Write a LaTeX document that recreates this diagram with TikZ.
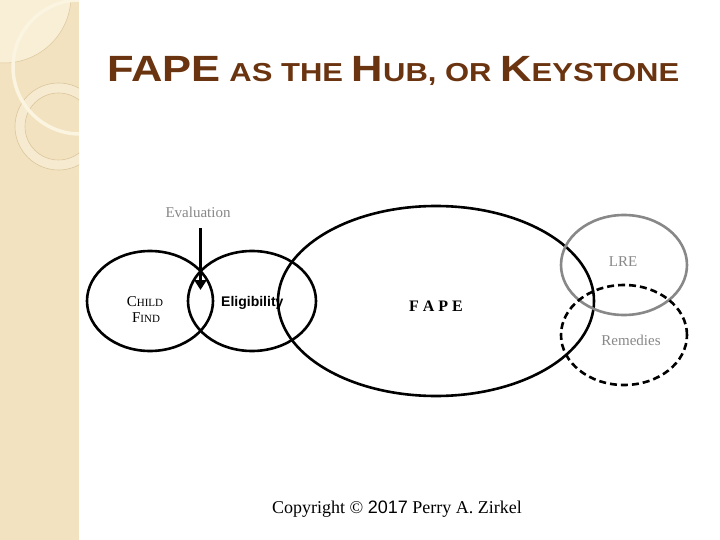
\documentclass[tikz,border=0pt]{standalone}
\usepackage{fontspec}
\usepackage{graphicx}
\setmainfont{Liberation Serif}
\newfontfamily\arialf{Liberation Sans}
\usetikzlibrary{shapes.geometric,arrows.meta}
\definecolor{stripbg}{HTML}{F2E2BF}
\definecolor{stripline}{HTML}{DCC79C}
\definecolor{stripcream}{HTML}{FBF4E0}
\definecolor{stripband}{HTML}{F6EAD0}
\definecolor{titlebrown}{HTML}{6B3410}
\definecolor{lregray}{HTML}{888888}
\newcommand\ttlbig{\fontsize{36.5}{36.5}\selectfont}
\newcommand\ttlsm{\fontsize{26}{26}\selectfont}
\newcommand\titletext{{\ttlbig FAPE}{\ttlsm\ AS THE }{\ttlbig H}{\ttlsm UB, OR }{\ttlbig K}{\ttlsm EYSTONE}}
\tikzset{
  ring/.style={ellipse, draw, line width=2.6pt, inner sep=0pt, minimum width=#1},
  lbl/.style={inner sep=0pt, font=\fontsize{15}{15}\selectfont},
  graylbl/.style={lbl, text=lregray},
}
\begin{document}
\begin{tikzpicture}[x=1pt,y=-1pt]
\useasboundingbox (0,0) rectangle (720,540);
\fill[white] (0,0) rectangle (720,540);
% decorative strip
\fill[stripbg] (0,0) rectangle (79,540);
\begin{scope}
\clip (0,0) rectangle (79,540);
\fill[stripcream!70!stripbg, draw=stripline, line width=0.5pt] (4,-4) circle (67);
\fill[stripband, even odd rule] (58.5,126.5) circle (43.5) (58.5,126.5) circle (33.5);
\draw[stripline, line width=0.6pt] (58.5,126.5) circle (43.5);
\draw[stripline, line width=0.6pt] (58.5,126.5) circle (33.5);
\draw[stripcream, line width=3.5pt] (80,67) circle (67);
\end{scope}
% title
\node[anchor=base west, inner sep=0pt, text=titlebrown, font=\arialf\bfseries] (title) at (107,82) {\resizebox{572pt}{\height}{\titletext}};
% labels
\node[graylbl, anchor=base] (eval) at (198,218) {Evaluation};
\node[graylbl, anchor=base] (lre) at (623,266) {LRE};
\node[graylbl, anchor=base] (rem) at (631,345) {Remedies};
\node[lbl, anchor=base, font=\fontsize{16}{16}\selectfont\bfseries] (fape) at (436,311) {F A P E};
\node[inner sep=0pt, anchor=base west, font=\arialf\bfseries\fontsize{14}{14}\selectfont] (elig) at (221,306) {Eligibility};
\node[inner sep=0pt, anchor=base, font=\fontsize{15}{15}\selectfont] (child) at (145,306) {C\fontsize{11}{11}\selectfont HILD};
\node[inner sep=0pt, anchor=base, font=\fontsize{15}{15}\selectfont] (find) at (146,322) {F\fontsize{11}{11}\selectfont IND};
% ellipses
\node[ring=126pt, minimum height=100pt] (childE) at (150,301) {};
\node[ring=128pt, minimum height=100pt] (eligE) at (252,301) {};
\node[ring=316pt, minimum height=190pt] (fapeE) at (436,301) {};
\node[ring=126pt, minimum height=100pt, draw=lregray] (lreE) at (624,265) {};
\node[ring=126pt, minimum height=100pt, dash pattern=on 7pt off 4pt] (remE) at (624,335) {};
% arrow
\coordinate (evaltip) at (200.5,290);
\draw[line width=3pt, -{Triangle[width=12pt,length=10pt]}] (eval.south -| evaltip) ++(0,10) -- (evaltip);
% copyright
\node[anchor=base west, inner sep=0pt, font=\fontsize{18}{18}\selectfont] (copy) at (272,513) {Copyright \textcopyright{} {\arialf 2017} Perry A. Zirkel};
\end{tikzpicture}
\end{document}
